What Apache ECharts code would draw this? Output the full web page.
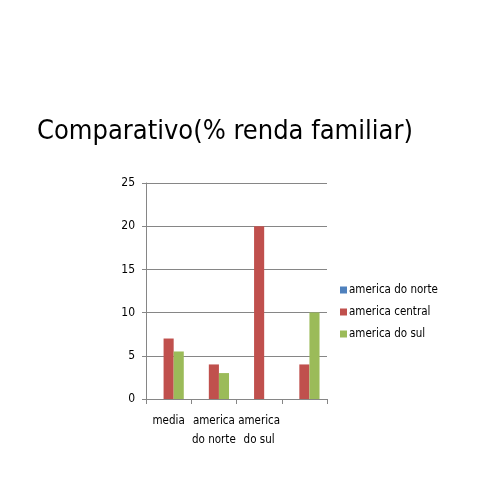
<!DOCTYPE html>
<html lang="pt">
<head>
    <meta charset="UTF-8">
    <script src="https://cdn.jsdelivr.net/npm/echarts@6/dist/echarts.min.js"></script>
    <title>Comparativo</title>
    <style>
        html, body { margin: 0; padding: 0; background: #ffffff; }
        #chart { width: 480px; height: 480px; }
    </style>
</head>
<body>
<div id="chart"></div>
<script>
    const categories = ['media', 'america\ndo norte', 'america\ndo sul', ''];
    const seriesNames = ['america do norte', 'america central', 'america do sul'];
    const norteValues = [0, 0, 0, 0];
    const centralValues = [7, 4, 20, 4];
    const sulValues = [5.5, 3, 0, 10];
    const yTicks = [0, 5, 10, 15, 20, 25];

    const font = '"DejaVu Sans Condensed", sans-serif';
    const colors = ['#4f81bd', '#c0504d', '#9bbb59'];

    const chart = echarts.init(document.getElementById('chart'));

    chart.setOption({
        animation: false,
        color: colors,
        title: {
            text: 'Comparativo(% renda familiar)',
            left: 32,
            top: 113,
            textStyle: {
                fontFamily: font,
                fontSize: 27,
                fontWeight: 'normal',
                color: '#000000'
            }
        },
        legend: {
            orient: 'vertical',
            left: 335,
            top: 279,
            itemWidth: 7,
            itemHeight: 7,
            itemGap: 10,
            icon: 'rect',
            data: seriesNames,
            textStyle: { fontFamily: font, fontSize: 11.5, color: '#000000', padding: [0, 0, 0, -3] }
        },
        grid: { left: 146, right: 153, top: 183, bottom: 81 },
        xAxis: {
            type: 'category',
            data: categories,
            axisLine: { lineStyle: { color: '#868686' } },
            axisTick: { show: true, length: 5, lineStyle: { color: '#868686' } },
            axisLabel: {
                interval: 0,
                margin: 13,
                lineHeight: 19,
                fontFamily: font,
                fontSize: 11.5,
                color: '#000000'
            }
        },
        yAxis: {
            type: 'value',
            min: yTicks[0],
            max: yTicks[yTicks.length - 1],
            interval: 5,
            axisLine: { show: true, lineStyle: { color: '#868686' } },
            axisTick: { show: true, length: 4, lineStyle: { color: '#868686' } },
            splitLine: { lineStyle: { color: '#868686' } },
            axisLabel: { margin: 11, fontFamily: font, fontSize: 12, color: '#000000' }
        },
        series: [
            { name: seriesNames[0], type: 'bar', data: norteValues, barGap: '0%', barCategoryGap: '33%' },
            { name: seriesNames[1], type: 'bar', data: centralValues, barGap: '0%', barCategoryGap: '33%' },
            { name: seriesNames[2], type: 'bar', data: sulValues, barGap: '0%', barCategoryGap: '33%' }
        ]
    });
</script>
</body>
</html>
